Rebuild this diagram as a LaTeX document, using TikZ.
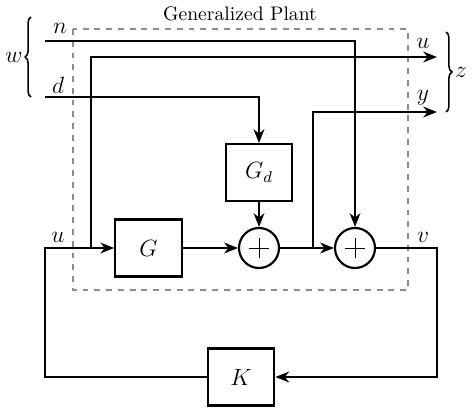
\documentclass[tikz,border=0pt]{standalone}
\usetikzlibrary{arrows.meta,decorations.pathreplacing}
\begin{document}
\begin{tikzpicture}[x=0.51pt,y=-0.51pt,
  line width=1.1pt,
  conn/.style={-{Stealth[length=7pt,width=5.5pt,inset=2.2pt]}},
  blockbox/.style={draw,minimum width=34pt,minimum height=29pt,inner sep=0pt},
  sumnode/.style={draw,circle,minimum size=20.4pt,inner sep=0pt,
    path picture={\draw[line width=0.5pt] ([xshift=-5.3pt]path picture bounding box.center) -- ([xshift=5.3pt]path picture bounding box.center);
                  \draw[line width=0.5pt] ([yshift=-5.3pt]path picture bounding box.center) -- ([yshift=5.3pt]path picture bounding box.center);}},
  plantbox/.style={draw=black!45,dashed,line width=0.8pt},
  bracestyle/.style={decorate,decoration={brace,amplitude=3pt},line width=0.8pt},
  lbl/.style={font=\large}
]
\useasboundingbox (0,0) rectangle (474,407);
% generalized plant boundary
\draw[plantbox] (73,29) rectangle (408,290);
\node (title) at (240,14) {Generalized Plant};
% blocks
\node[blockbox,lbl] (G) at (148.5,248) {$G$};
\node[blockbox,lbl] (Gd) at (259,172.5) {$G_d$};
\node[blockbox,lbl] (K) at (241,377) {$K$};
\node[sumnode] (s1) at (259,248) {};
\node[sumnode] (s2) at (355,248) {};
% coordinates
\coordinate (nIn) at (45,41);
\coordinate (dIn) at (45,97);
\coordinate (uL) at (45,248);
\coordinate (uJ) at (91,248);
\coordinate (yJ) at (313,248);
\coordinate (uOut) at (437,57);
\coordinate (yOut) at (437,112);
\coordinate (vR) at (437,248);
\coordinate (kR) at (437,377);
\coordinate (kL) at (45,377);
% connectors
\draw[conn] (nIn) -| (s2.north);
\draw[conn] (dIn) -| (Gd.north);
\draw[conn] (uJ) |- (uOut);
\draw[conn] (yJ) |- (yOut);
\draw[conn] (G.east) -- (s1.west);
\draw[conn] (Gd.south) -- (s1.north);
\draw[conn] (s1.east) -- (s2.west);
\draw[conn] (s2.east) -- (vR) -- (kR) -- (K.east);
\draw[conn] (K.west) -- (kL) -- (uL) -- (G.west);
% labels
\node[lbl] (ln) at (60,28) {$n$};
\node[lbl] (ld) at (58,85) {$d$};
\node[lbl] (lu) at (58,237) {$u$};
\node[lbl] (luo) at (423,43) {$u$};
\node[lbl] (lyo) at (423,98) {$y$};
\node[lbl] (lv) at (423,237) {$v$};
% braces
\draw[bracestyle] (31,97) -- (31,17);
\node[lbl] (lw) at (14,57) {$w$};
\draw[bracestyle] (446,32) -- (446,112);
\node[lbl] (lz) at (461,72) {$z$};
\end{tikzpicture}
\end{document}
